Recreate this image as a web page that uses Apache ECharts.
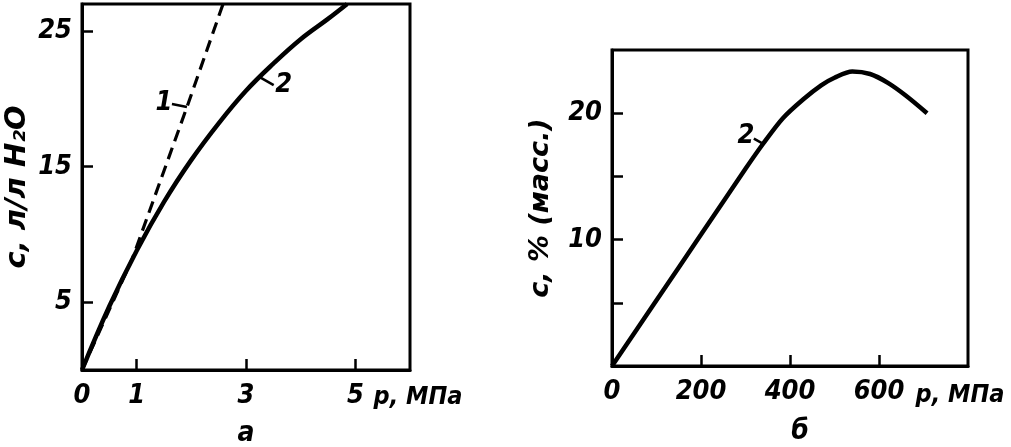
<!DOCTYPE html>
<html>
<head>
<meta charset="utf-8">
<script src="https://cdn.jsdelivr.net/npm/echarts@6/dist/echarts.min.js"></script>
<style>
html,body{margin:0;padding:0;background:#fff;}
#c{width:1011px;height:447px;}
</style>
</head>
<body>
<div id="c"></div>
<script>
// ---- data: panel a ----
const pA_line1 = [0, 0.92, 1.92, 2.58];
const cA_line1 = [0, 8.2, 19.4, 27];
const pA_line2 = [0, 0.5, 1, 1.5, 2, 2.5, 3, 3.5, 4, 4.5, 4.85];
const cA_line2 = [0, 4.7, 8.8, 12.4, 15.5, 18.2, 20.6, 22.6, 24.4, 25.9, 27.0];
const aXTicks = [1, 3, 5];
const aXLabels = [0, 1, 3, 5];
const aYTicks = [5, 15, 25];
// ---- data: panel б ----
const pB_line2 = [0, 100, 200, 300, 340, 384, 430, 470, 500, 540, 580, 620, 660, 708];
const cB_line2 = [0, 5.2, 10.4, 15.6, 17.6, 19.6, 21.1, 22.2, 22.8, 23.3, 23.1, 22.4, 21.4, 20.0];
const bXTicks = [200, 400, 600];
const bXLabels = [0, 200, 400, 600];
const bYTicks = [5, 10, 15, 20];
const bYLabels = [10, 20];
// texts
const xName = 'p, МПа';
const yNameA = 'c, л/л H₂O';
const yNameB = 'c, % (масс.)';
const capA = 'а';
const capB = 'б';

const FONT = '"Liberation Sans Narrow","DejaVu Sans Condensed","Liberation Sans",sans-serif';
const FONT_W = '"DejaVu Sans",sans-serif';
const zip = (xs, ys) => xs.map((x, i) => [x, ys[i]]);

const chart = echarts.init(document.getElementById('c'), null, {renderer: 'canvas'});

function xAxisCfg(gi, min, max, ticks, labels) {
  return {
    type: 'value', gridIndex: gi, min: min, max: max,
    axisLine: {show: true, lineStyle: {color: '#000', width: 3}},
    axisTick: {show: true, inside: true, length: 11, lineStyle: {color: '#000', width: 2.5}, customValues: ticks},
    axisLabel: {show: true, customValues: labels, margin: 12, color: '#000',
      fontFamily: FONT, fontSize: 27, fontStyle: 'italic', fontWeight: 'bold'},
    splitLine: {show: false}
  };
}
function yAxisCfg(gi, min, max, ticks, labels, name, gap, nsize) {
  return {
    type: 'value', gridIndex: gi, min: min, max: max,
    name: name, nameLocation: 'middle', nameGap: gap, nameRotate: 90,
    nameTextStyle: {color: '#000', fontFamily: FONT_W, fontSize: nsize, fontStyle: 'italic', fontWeight: 'bold'},
    axisLine: {show: true, lineStyle: {color: '#000', width: 3}},
    axisTick: {show: true, inside: true, length: 11, lineStyle: {color: '#000', width: 2.5}, customValues: ticks},
    axisLabel: {show: true, customValues: labels, margin: 10, color: '#000',
      fontFamily: FONT, fontSize: 27, fontStyle: 'italic', fontWeight: 'bold'},
    splitLine: {show: false}
  };
}

const option = {
  animation: false,
  backgroundColor: '#fff',
  grid: [
    {left: 82, top: 4, right: 601, bottom: 77, show: true, borderColor: '#000', borderWidth: 3, backgroundColor: 'transparent'},
    {left: 612, top: 50, right: 43, bottom: 81, show: true, borderColor: '#000', borderWidth: 3, backgroundColor: 'transparent'}
  ],
  xAxis: [
    xAxisCfg(0, 0, 6, aXTicks, aXLabels),
    xAxisCfg(1, 0, 800, bXTicks, bXLabels)
  ],
  yAxis: [
    yAxisCfg(0, 0, 27, aYTicks, aYTicks, yNameA, 50, 29),
    yAxisCfg(1, 0, 25, bYTicks, bYLabels, yNameB, 58, 27)
  ],
  series: [
    {type: 'line', xAxisIndex: 0, yAxisIndex: 0, data: zip(pA_line1, cA_line1), showSymbol: false, symbol: 'none',
      lineStyle: {color: '#000', width: 3.2, type: [12, 7]}, clip: true},
    {type: 'line', xAxisIndex: 0, yAxisIndex: 0, data: zip(pA_line2, cA_line2), showSymbol: false, symbol: 'none', smooth: 0.4,
      lineStyle: {color: '#000', width: 4.5}, clip: true},
    {type: 'line', xAxisIndex: 1, yAxisIndex: 1, data: zip(pB_line2, cB_line2), showSymbol: false, symbol: 'none', smooth: 0.3,
      lineStyle: {color: '#000', width: 4.5}, clip: true}
  ]
};
chart.setOption(option);

// annotations: label anchored on curve points, drawn with leader lines
const txtStyle = (t, x, y, size) => ({type: 'text', x: x, y: y, style: {text: t, fill: '#000',
  font: 'italic bold ' + size + 'px ' + FONT, textAlign: 'center', textVerticalAlign: 'middle'}});
const ln = (x1, y1, x2, y2) => ({type: 'line', shape: {x1, y1, x2, y2}, style: {stroke: '#000', lineWidth: 2.5}});

const pA1 = chart.convertToPixel({gridIndex: 0}, [1.92, 19.4]);
const pA2 = chart.convertToPixel({gridIndex: 0}, [3.25, 21.6]);
const pB2 = chart.convertToPixel({gridIndex: 1}, [339, 17.6]);
const xEndA = chart.convertToPixel({gridIndex: 0}, [6, 0]);
const xEndB = chart.convertToPixel({gridIndex: 1}, [800, 0]);
const midA = chart.convertToPixel({gridIndex: 0}, [3, 0]);
const midB = chart.convertToPixel({gridIndex: 1}, [400, 0]);

chart.setOption({
  graphic: [
    ln(pA1[0] - 15, pA1[1] - 3, pA1[0], pA1[1]),
    txtStyle('1', pA1[0] - 23, pA1[1] - 4, 27),
    ln(pA2[0], pA2[1], pA2[0] + 14, pA2[1] + 8),
    txtStyle('2', pA2[0] + 24, pA2[1] + 8, 27),
    ln(pB2[0] - 9, pB2[1] - 5, pB2[0], pB2[1]),
    txtStyle('2', pB2[0] - 17, pB2[1] - 8, 27),
    txtStyle(xName, xEndA[0] + 8, xEndA[1] + 27, 25),
    txtStyle(xName, xEndB[0] - 8, xEndB[1] + 29, 25),
    txtStyle(capA, midA[0], midA[1] + 64, 28),
    txtStyle(capB, midB[0] + 10, midB[1] + 66, 28)
  ]
});
</script>
</body>
</html>
